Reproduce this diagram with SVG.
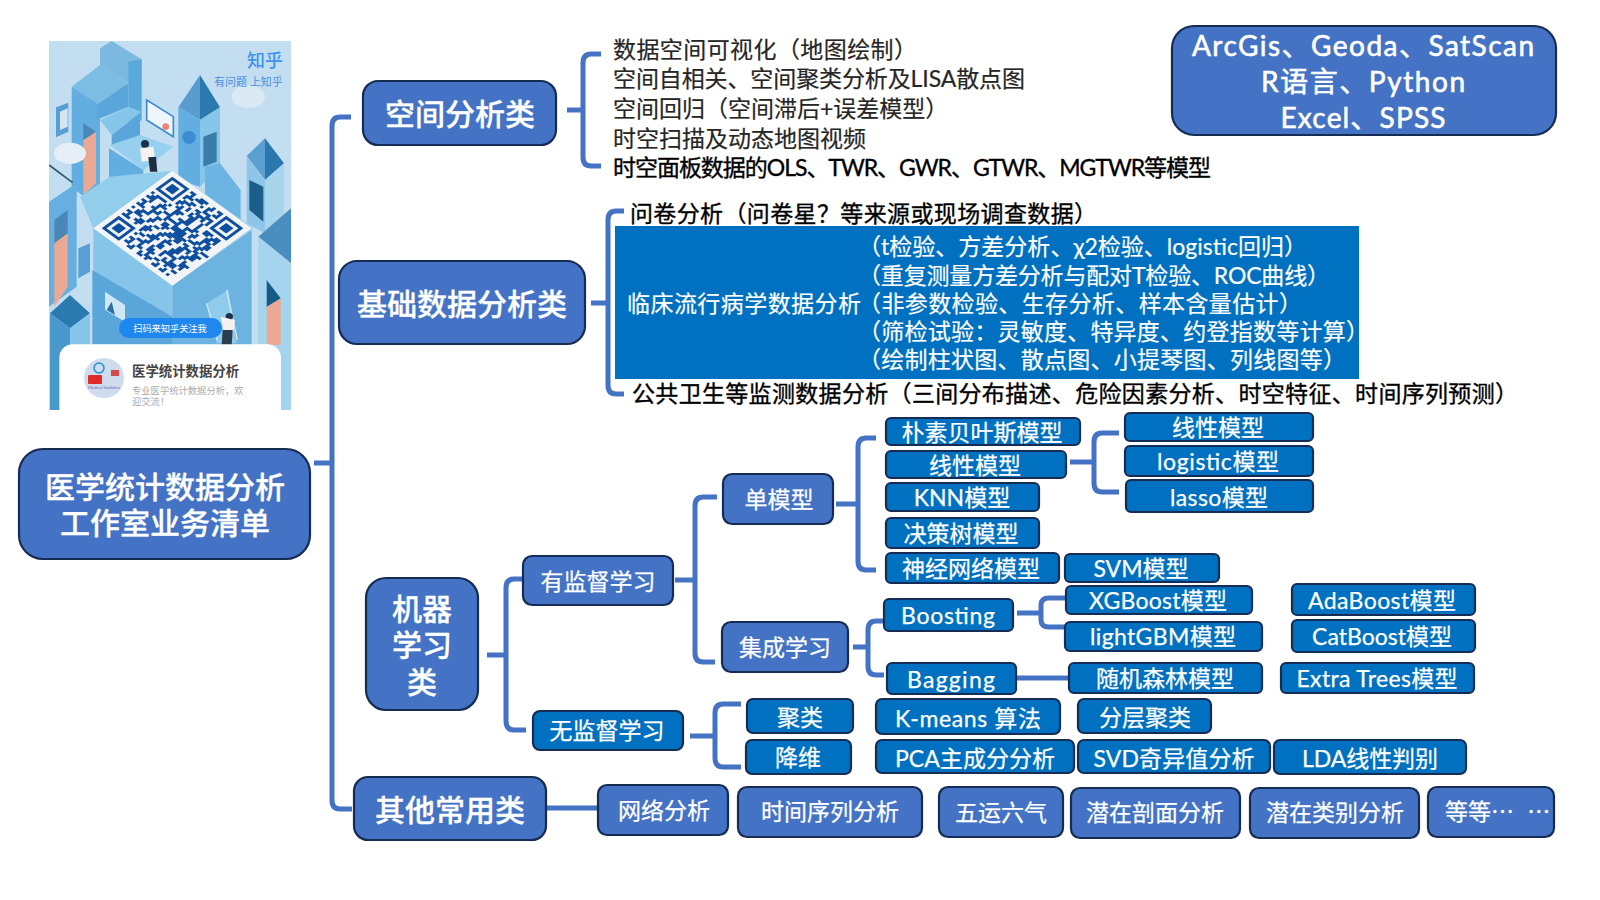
<svg xmlns="http://www.w3.org/2000/svg" width="1600" height="900" viewBox="0 0 1600 900">
<style>
text{font-family:Lato,"Noto Sans CJK SC",sans-serif;dominant-baseline:central}
.c{text-anchor:middle}
.w{fill:#fff}
.n rect{fill:#4472C4;stroke:#172c55;stroke-width:2.2}
.b rect{fill:#0070C0;stroke:#172c55;stroke-width:2.2}
.h{font-size:30px;font-weight:500;stroke:#fff;stroke-width:.3}
.m{font-size:23px;fill:#fff;stroke:#fff;stroke-width:.25}
.l{font-size:28px;fill:#fff;stroke:#fff;stroke-width:.6}
.t{font-size:23px;fill:#262626;stroke:#262626;stroke-width:.2}
.k{font-size:23px;fill:#000;stroke:#000;stroke-width:.35}
.u{font-size:23px;fill:#fff;stroke:#fff;stroke-width:.2}
#connectors path{fill:none;stroke:#4472C4;stroke-width:5}
</style>
<defs><clipPath id="pc"><rect x="147" y="63" width="726" height="1107"/></clipPath>
<filter id="soft" x="-2%" y="-2%" width="104%" height="104%"><feGaussianBlur stdDeviation="1.5"/></filter></defs>

<g id="poster">
<g transform="translate(0,20) scale(.33333)" clip-path="url(#pc)">
<g filter="url(#soft)">
<rect x="147" y="63" width="726" height="1107" fill="#c3def0"/>
<polygon points="300,85 335,63 425,118 425,190 385,190 300,135" fill="#7cb9e0"/>
<polygon points="385,125 425,118 425,300 385,330" fill="#5aa8dc"/>
<polygon points="215,200 300,135 385,190 300,255" fill="#7cbde4"/>
<polygon points="215,200 300,255 300,570 215,500" fill="#62aee0"/>
<polygon points="290,255 385,190 385,260 290,300" fill="#5aa5da"/>
<polygon points="300,300 385,260 425,275 335,345" fill="#86c6ea"/>
<polygon points="335,345 420,280 420,350 335,375" fill="#5aa5da"/>
<polygon points="330,375 420,345 520,380 430,450" fill="#96d0ee"/>
<polygon points="327,385 430,450 430,530 327,470" fill="#62aee0"/>
<polygon points="250,360 288,335 288,490 250,525" fill="#eba893"/>
<polygon points="250,310 288,335 250,360" fill="#4a88b5"/>
<polygon points="168,262 205,248 205,335 168,352" fill="#5a9fd4"/>
<polygon points="180,275 203,265 203,320 180,330" fill="#d5e6f3"/>
<polygon points="440,240 520,290 520,350 440,300" fill="#eef6fb" stroke="#3d8bd0" stroke-width="5"/>
<circle cx="497" cy="320" r="10" fill="#e9866f"/>
<ellipse cx="210" cy="400" rx="48" ry="32" fill="#e6eff6"/>
<ellipse cx="745" cy="230" rx="50" ry="34" fill="#dbe9f3"/>
<polygon points="535,262 600,165 600,300" fill="#5a9ccd"/>
<polygon points="600,165 660,262 600,300" fill="#2a7ab0"/>
<polygon points="535,262 600,300 600,500 535,480" fill="#62aee0"/>
<polygon points="600,300 660,262 660,440 600,500" fill="#86c6ea"/>
<circle cx="567" cy="352" r="20" fill="#3d8bd0"/>
<polygon points="610,350 650,335 650,425 610,440" fill="#3a7ca8"/>
<polygon points="740,408 795,355 795,480" fill="#5a9fd0"/>
<polygon points="795,355 852,430 795,480" fill="#2a78ae"/>
<polygon points="740,408 795,480 795,640 740,610" fill="#8fc6e8"/>
<polygon points="795,480 852,430 852,620 795,640" fill="#a8d5ee"/>
<polygon points="748,480 790,500 790,605 748,570" fill="#1d5f8a"/>
<polygon points="615,440 660,430 722,510 722,640 615,640" fill="#6cb5e2"/>
<polygon points="147,545 230,490 230,800 147,860" fill="#66afe0"/>
<polygon points="163,640 203,640 203,800 163,860" fill="#eba893"/>
<polygon points="163,600 203,570 203,640 163,670" fill="#4a88b5"/>
<polygon points="240,530 330,470 517,452 760,625 517,800 280,625" fill="#93cdec"/>
<polygon points="280,625 517,797 517,975 280,750" fill="#86c4ea"/>
<polygon points="517,797 755,630 755,975 517,975" fill="#6cb3e0"/>
<polygon points="277,750 517,890 517,975 277,975" fill="#5aa5da"/>
<polygon points="235,685 270,670 270,755 235,775" fill="#5a9fd4"/>
<polygon points="775,650 873,565 873,730" fill="#4a8ebf"/>
<polygon points="775,650 873,730 873,1170 775,1170" fill="#a5d4ee"/>
<polygon points="800,860 842,835 842,975 800,975" fill="#eba893"/>
<polygon points="800,780 842,835 800,860" fill="#145a86"/>
<polygon points="150,880 210,825 270,880 210,925" fill="#2a7ab0"/>
<polygon points="150,880 210,925 210,1170 150,1170" fill="#4a98cc"/>
<polygon points="210,925 270,880 270,1170 210,1170" fill="#86c6ea"/>
<polygon points="315,815 375,855 375,905 315,870" fill="#cfe6f4"/>
<polygon points="335,845 345,885 320,870" fill="#2d6f9e"/>
<polygon points="620,850 685,810 710,970 650,970" fill="#8fcbeb"/>
<path d="M147 435L218 488" stroke="#34566f" stroke-width="5"/>
<path d="M620 850L652 960M680 810L712 960" stroke="#d8e8f2" stroke-width="4"/>
<circle cx="435" cy="372" r="12" fill="#1d3347"/>
<polygon points="420,385 460,380 466,420 425,425" fill="#f4f1ef"/>
<polygon points="445,412 468,410 472,455 450,455" fill="#1d2f40"/>
<circle cx="688" cy="890" r="11" fill="#1d3347"/>
<polygon points="662,890 705,900 700,935 670,930" fill="#f4f1ef"/>
<polygon points="668,930 698,930 695,975 665,975" fill="#2b3c4c"/>
<rect x="178" y="973" width="665" height="260" rx="40" fill="#fff"/>
</g>
<polygon points="280,625 517,452 755,625 517,797" fill="#f3f4f5"/>
<g transform="matrix(7.34 5.34 -7.31 5.34 517 470)" fill="none" stroke="#0e4fa0">
<path fill="#0e4fa0" stroke="none" fill-rule="evenodd" d="M0 0h7v7h-7zM1 1v5h5v-5zM2 2h3v3h-3zM22 0h7v7h-7zM23 1v5h5v-5zM24 2h3v3h-3zM0 22h7v7h-7zM1 23v5h5v-5zM2 24h3v3h-3z"/>
<path stroke-width="1" d="M8 .5h2m2 0h3m2 0h1m1 0h2M9 1.5h1m1 0h3m2 0h2m2 0h1M8 2.5h3m3 0h1m1 0h1m2 0h2M8 3.5h1m2 0h2m3 0h3M9 4.5h3m2 0h2m2 0h3M8 5.5h2m2 0h1m2 0h4m1 0h1M8 6.5h1m1 0h1m1 0h1m1 0h1m1 0h1m1 0h1m1 0h1M9 7.5h2m3 0h3m2 0h1M0 8.5h1m1 0h4m1 0h1m2 0h3m2 0h2m2 0h1m2 0h3m1 0h2M1 9.5h2m3 0h1m3 0h2m3 0h2m2 0h1m2 0h2m1 0h3M0 10.5h3m2 0h3m2 0h1m2 0h4m2 0h2m3 0h2m1 0h1M2 11.5h1m2 0h1m2 0h3m3 0h1m2 0h3m1 0h1m2 0h3M0 12.5h2m2 0h2m1 0h1m2 0h5m2 0h1m2 0h2m2 0h1m1 0h2M1 13.5h1m3 0h3m2 0h1m3 0h5m1 0h1m2 0h2m1 0h2M0 14.5h3m2 0h1m2 0h2m1 0h2m1 0h5m2 0h3m1 0h2M3 15.5h3m2 0h1m2 0h3m2 0h5m3 0h2m1 0h3M0 16.5h1m1 0h2m3 0h2m3 0h1m2 0h5m1 0h2m2 0h2M2 17.5h3m2 0h1m2 0h2m2 0h3m1 0h2m2 0h3m1 0h3M0 18.5h2m3 0h2m2 0h1m3 0h2m2 0h1m3 0h2m1 0h1m1 0h2M1 19.5h1m2 0h3m1 0h3m2 0h1m2 0h3m2 0h2m2 0h3M0 20.5h3m2 0h1m2 0h2m2 0h3m1 0h1m3 0h3m1 0h2M8 21.5h1m2 0h3m2 0h2m2 0h2m2 0h1m1 0h1M9 22.5h2m2 0h1m2 0h2m1 0h5m2 0h3M8 23.5h1m3 0h2m1 0h1m3 0h1m3 0h1m2 0h2M10 24.5h3m2 0h2m2 0h1m1 0h1m1 0h3m1 0h1M8 25.5h2m2 0h1m2 0h3m3 0h5M9 26.5h1m2 0h2m2 0h1m2 0h2m2 0h1m2 0h2M8 27.5h2m1 0h1m2 0h1m1 0h3m2 0h1m2 0h1M10 28.5h2m2 0h2m1 0h1m2 0h2m1 0h2m1 0h1"/>
</g>
</g>
<rect x="119" y="318" width="103" height="20" rx="10" fill="#1e88ee"/>
<circle cx="104" cy="378" r="20" fill="#cfdcee"/>
<rect x="88" y="375" width="14" height="9" rx="1" fill="#e02b2b"/>
<circle cx="99" cy="368" r="5" fill="none" stroke="#1f8fd6" stroke-width="1.5"/>
<rect x="111" y="370" width="8" height="6" fill="#d8494a"/>
<text x="247" y="60" font-size="18" font-weight="500" style="fill:#3f93e8">知乎</text>
<text x="214" y="81" font-size="11" style="fill:#4a8fe0">有问题 上知乎</text>
<text x="170" y="328" font-size="9.2" class="c w">扫码来知乎关注我</text>
<text x="132" y="371" font-size="13.4" font-weight="700" fill="#444">医学统计数据分析</text>
<text x="132" y="390" font-size="9.3" fill="#aaa">专业医学统计数据分析，欢</text>
<text x="132" y="401" font-size="9.3" fill="#aaa">迎交流！</text>
<text x="104" y="387" font-size="4.2" class="c" fill="#6d5ea8">Medical Statistics</text>
</g>

<g id="connectors">
<path d="M351,117 H340 Q332,117 332,126 V800 Q332,809 340,809 H352 M314,463 H332"/>
<path d="M601,54 H591 Q583,54 583,63 V157 Q583,166 591,166 H601 M567,110 H583"/>
<path d="M624,211 H616 Q608,211 608,220 V385 Q608,394 616,394 H624 M591,303 H608"/>
<path d="M522,579 H514 Q506,579 506,588 V721 Q506,730 514,730 H526 M487,655 H506"/>
<path d="M717,497 H703 Q695,497 695,506 V653 Q695,662 703,662 H715 M675,580 H695"/>
<path d="M741,704 H723 Q715,704 715,713 V758 Q715,767 723,767 H741 M690,736 H715"/>
<path d="M876,438 H866 Q858,438 858,447 V561 Q858,570 866,570 H876 M836,504 H858"/>
<path d="M884,621 H876 Q868,621 868,630 V666 Q868,675 876,675 H884 M853,647 H868"/>
<path d="M1119,433 H1102 Q1094,433 1094,442 V483 Q1094,492 1102,492 H1119 M1070,462 H1094"/>
<path d="M1065,598 H1049 Q1041,598 1041,605 V620 Q1041,627 1049,627 H1065 M1017,613 H1041"/>
<path d="M1016,678 H1069"/>
<path d="M547,808 H598"/>
</g>

<g id="root" class="n"><rect x="19" y="449" width="291" height="110" rx="24"/>
<text x="165" y="486" class="c w h">医学统计数据分析</text><text x="165" y="522" class="c w h">工作室业务清单</text></g>
<g id="spatial" class="n"><rect x="363" y="81" width="193" height="64" rx="15"/><text x="460" y="113" class="c w h">空间分析类</text></g>
<g id="basic" class="n"><rect x="339" y="261" width="246" height="83" rx="18"/><text x="462" y="303" class="c w h">基础数据分析类</text></g>
<g id="ml" class="n"><rect x="366" y="578" width="112" height="132" rx="20"/><text x="422" y="608" class="c w h">机器</text><text x="422" y="644" class="c w h">学习</text><text x="422" y="681" class="c w h">类</text></g>
<g id="other" class="n"><rect x="354" y="777" width="192" height="63" rx="14"/><text x="450" y="809" class="c w h">其他常用类</text></g>

<g id="spatial-items">
<text x="613" y="49" class="t" textLength="304">数据空间可视化（地图绘制）</text>
<text x="613" y="78" class="t" textLength="412">空间自相关、空间聚类分析及LISA散点图</text>
<text x="613" y="108" class="t">空间回归（空间滞后+误差模型）</text>
<text x="613" y="138" class="t">时空扫描及动态地图视频</text>
<text x="613" y="167" class="k" textLength="598">时空面板数据的OLS、TWR、GWR、GTWR、MGTWR等模型</text>
</g>
<g id="tools" class="n"><rect x="1172" y="26" width="384" height="109" rx="22"/>
<text x="1363" y="44.500" class="c l" textLength="342">ArcGis、Geoda、SatScan</text>
<text x="1363" y="81" class="c l" textLength="204">R语言、Python</text>
<text x="1363" y="117" class="c l" textLength="165">Excel、SPSS</text></g>
<g id="survey"><text x="630" y="213" class="k" textLength="467">问卷分析（问卷星？等来源或现场调查数据）</text></g>
<g id="clinical"><rect x="615" y="226" width="744" height="153" fill="#0070C0"/>
<text x="627" y="303" class="u" textLength="234">临床流行病学数据分析</text>
<text x="858" y="246" class="u" textLength="449">（t检验、方差分析、χ2检验、logistic回归）</text>
<text x="858" y="274.500" class="u" textLength="472">（重复测量方差分析与配对T检验、ROC曲线）</text>
<text x="858" y="302.500" class="u" textLength="444">（非参数检验、生存分析、样本含量估计）</text>
<text x="858" y="331" class="u" textLength="511">（筛检试验：灵敏度、特异度、约登指数等计算）</text>
<text x="858" y="358.500" class="u" textLength="488">（绘制柱状图、散点图、小提琴图、列线图等）</text></g>
<g id="public"><text x="632" y="393" class="k" textLength="886">公共卫生等监测数据分析（三间分布描述、危险因素分析、时空特征、时间序列预测）</text></g>

<g id="supervised" class="n"><rect x="523" y="556" width="150" height="49" rx="9"/><text x="598" y="581" class="c m">有监督学习</text></g>
<g id="unsupervised" class="b"><rect x="533" y="711" width="150" height="39" rx="7"/><text x="607" y="730" class="c m">无监督学习</text></g>
<g id="single" class="n"><rect x="723" y="474" width="110" height="50" rx="9"/><text x="779" y="499" class="c m">单模型</text></g>
<g id="ensemble" class="n"><rect x="722" y="622" width="126" height="50" rx="9"/><text x="785" y="647" class="c m">集成学习</text></g>

<g id="nb" class="b"><rect x="886" y="418" width="194" height="27" rx="5"/><text x="982" y="432" class="c m">朴素贝叶斯模型</text></g>
<g id="linear" class="b"><rect x="886" y="451" width="180" height="27" rx="5"/><text x="975" y="465" class="c m">线性模型</text></g>
<g id="knn" class="b"><rect x="886" y="483" width="153" height="28" rx="5"/><text x="962" y="497" class="c m">KNN模型</text></g>
<g id="dt" class="b"><rect x="886" y="518" width="153" height="30" rx="5"/><text x="961" y="533" class="c m">决策树模型</text></g>
<g id="nn" class="b"><rect x="886" y="553" width="173" height="30" rx="5"/><text x="971" y="568" class="c m">神经网络模型</text></g>
<g id="svm" class="b"><rect x="1065" y="554" width="154" height="28" rx="5"/><text x="1141" y="568" class="c m">SVM模型</text></g>
<g id="lin2" class="b"><rect x="1125" y="413" width="188" height="28" rx="5"/><text x="1218" y="427" class="c m">线性模型</text></g>
<g id="logistic" class="b"><rect x="1125" y="446" width="188" height="30" rx="5"/><text x="1218" y="461" class="c m" textLength="122">logistic模型</text></g>
<g id="lasso" class="b"><rect x="1126" y="480" width="187" height="32" rx="5"/><text x="1219" y="496.500" class="c m" textLength="98">lasso模型</text></g>
<g id="boosting" class="b"><rect x="884" y="599" width="129" height="32" rx="5"/><text x="948" y="614.500" class="c m" textLength="94">Boosting</text></g>
<g id="bagging" class="b"><rect x="887" y="663" width="129" height="31" rx="5"/><text x="951" y="678.500" class="c m" textLength="88">Bagging</text></g>
<g id="xgb" class="b"><rect x="1066" y="586" width="186" height="28" rx="5"/><text x="1158" y="599.500" class="c m" textLength="138">XGBoost模型</text></g>
<g id="lgbm" class="b"><rect x="1065" y="622" width="197" height="29" rx="5"/><text x="1163" y="636" class="c m" textLength="146">lightGBM模型</text></g>
<g id="rf" class="b"><rect x="1069" y="663" width="193" height="30" rx="5"/><text x="1165" y="677.500" class="c m">随机森林模型</text></g>
<g id="ada" class="b"><rect x="1292" y="584" width="183" height="31" rx="5"/><text x="1382" y="600" class="c m" textLength="148">AdaBoost模型</text></g>
<g id="cat" class="b"><rect x="1292" y="620" width="183" height="32" rx="5"/><text x="1382" y="636" class="c m" textLength="140">CatBoost模型</text></g>
<g id="extra" class="b"><rect x="1281" y="663" width="193" height="30" rx="5"/><text x="1377" y="678" class="c m" textLength="161">Extra Trees模型</text></g>

<g id="cluster" class="b"><rect x="747" y="699" width="106" height="34" rx="6"/><text x="800" y="716.500" class="c m">聚类</text></g>
<g id="dimred" class="b"><rect x="746" y="740" width="105" height="34" rx="6"/><text x="798" y="757" class="c m">降维</text></g>
<g id="kmeans" class="b"><rect x="876" y="699" width="184" height="35" rx="6"/><text x="968" y="718" class="c m" textLength="146">K-means 算法</text></g>
<g id="hier" class="b"><rect x="1078" y="699" width="133" height="34" rx="6"/><text x="1145" y="716.500" class="c m">分层聚类</text></g>
<g id="pca" class="b"><rect x="876" y="740" width="198" height="33" rx="6"/><text x="975" y="758" class="c m" textLength="160">PCA主成分分析</text></g>
<g id="svd" class="b"><rect x="1078" y="740" width="192" height="33" rx="6"/><text x="1174" y="758" class="c m" textLength="161">SVD奇异值分析</text></g>
<g id="lda" class="b"><rect x="1274" y="740" width="192" height="34" rx="6"/><text x="1370" y="758" class="c m" textLength="136">LDA线性判别</text></g>

<g id="network" class="n"><rect x="598" y="785" width="130" height="50" rx="9"/><text x="664" y="810" class="c m">网络分析</text></g>
<g id="ts" class="n"><rect x="738" y="787" width="184" height="50" rx="9"/><text x="830" y="811" class="c m">时间序列分析</text></g>
<g id="wuyun" class="n"><rect x="939" y="787" width="124" height="50" rx="9"/><text x="1001" y="812" class="c m">五运六气</text></g>
<g id="lpa" class="n"><rect x="1071" y="788" width="169" height="50" rx="9"/><text x="1155" y="812" class="c m">潜在剖面分析</text></g>
<g id="lca" class="n"><rect x="1250" y="788" width="169" height="50" rx="9"/><text x="1335" y="812" class="c m">潜在类别分析</text></g>
<g id="etc" class="n"><rect x="1428" y="787" width="126" height="50" rx="9"/><text x="1445" y="810" class="m" style="font-family:'Noto Sans CJK SC',sans-serif;word-spacing:8px">等等… …</text></g>
</svg>
